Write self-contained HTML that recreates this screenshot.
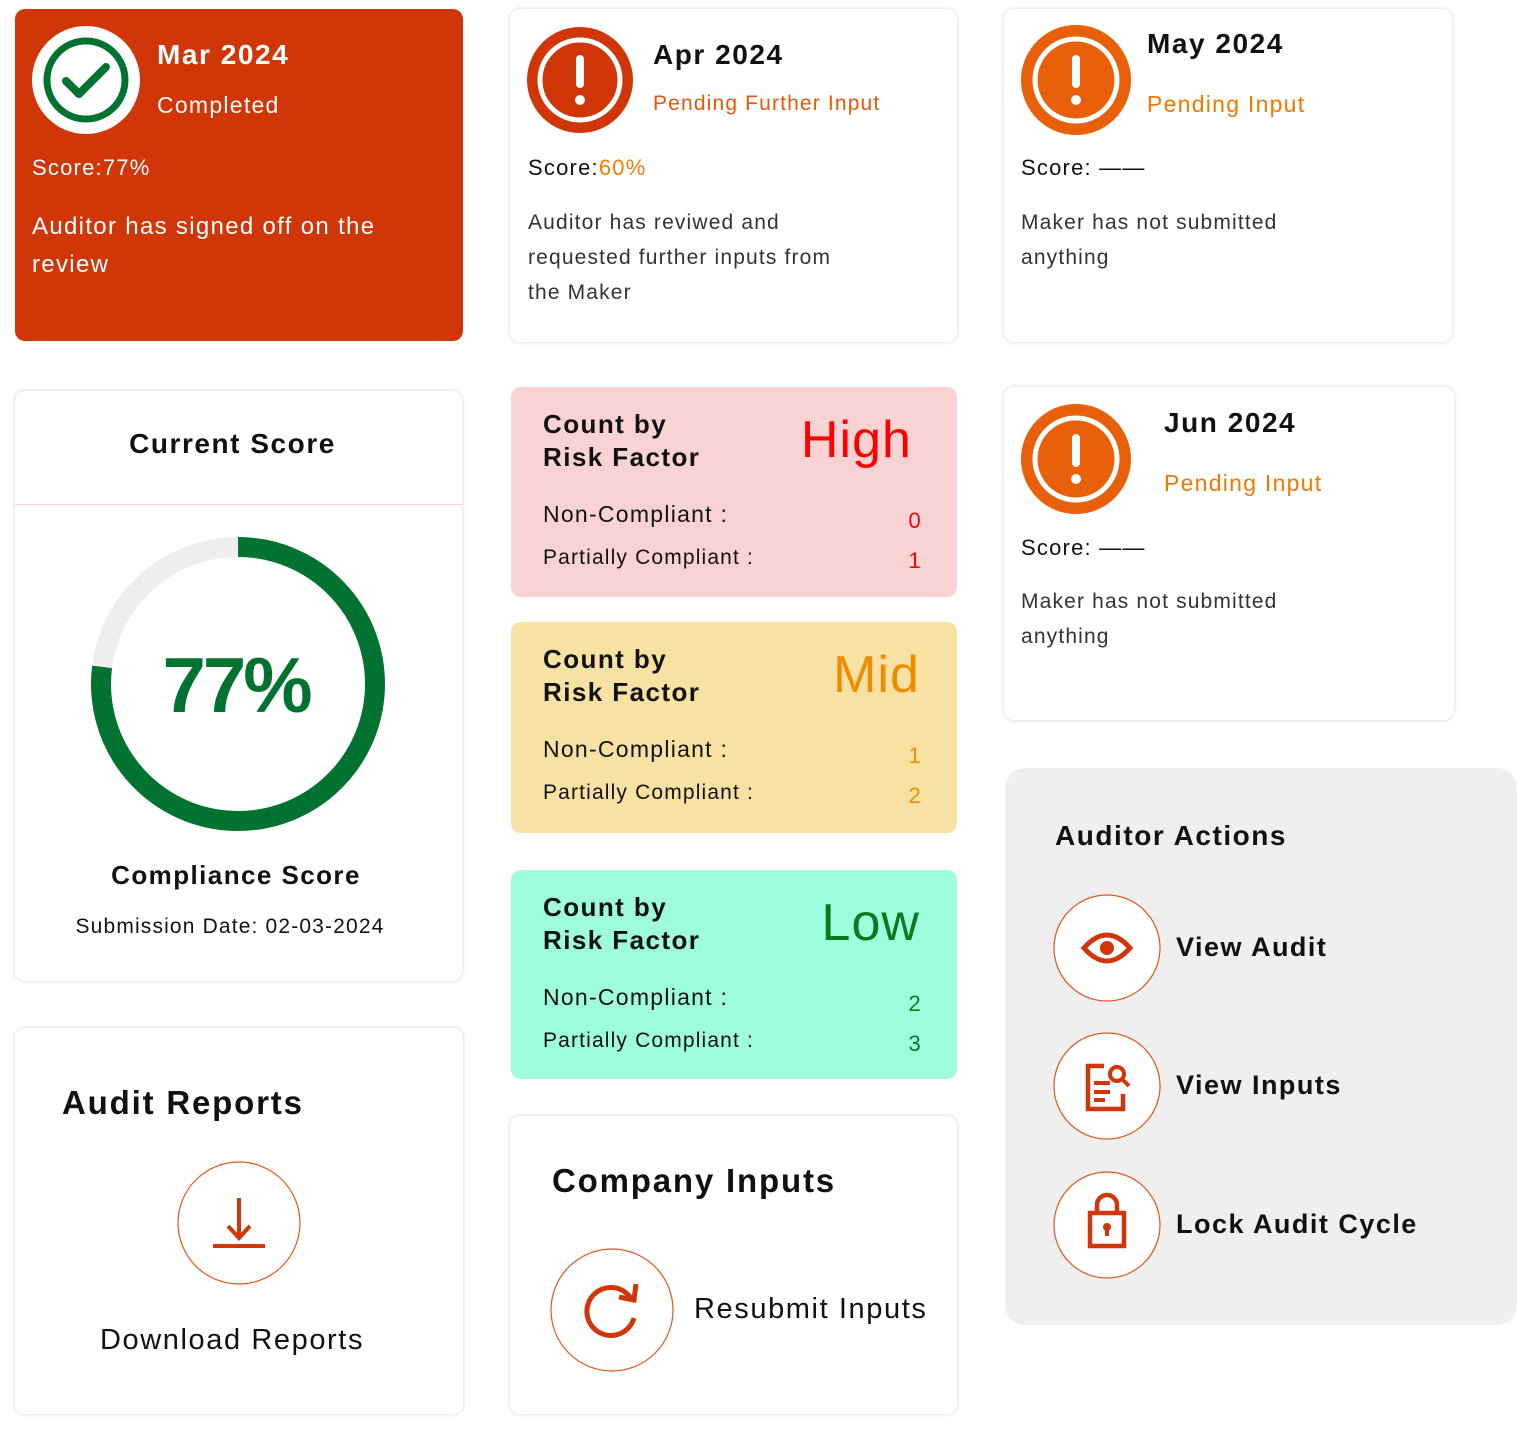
<!DOCTYPE html>
<html><head><meta charset="utf-8">
<style>
*{box-sizing:border-box;margin:0;padding:0}
body{width:1518px;height:1430px;background:#fff;position:relative;overflow:hidden;font-family:"Liberation Sans",sans-serif;color:#111}
.card{position:absolute;border-radius:10px;background:#fff;box-shadow:0 0 4px rgba(0,0,0,0.18)}
.t{position:absolute;line-height:1;white-space:nowrap;letter-spacing:0.055em;transform:translateY(4px)}
.b{font-weight:bold}
svg{position:absolute;left:0;top:0}
</style></head><body>

<div class="card" style="left:15px;top:9px;width:448px;height:332px;background:#D13609;box-shadow:none"></div>
<div class="card" style="left:510px;top:9px;width:447px;height:333px"></div>
<div class="card" style="left:1004px;top:9px;width:448px;height:333px"></div>
<div class="card" style="left:15px;top:391px;width:447px;height:590px"></div>
<div class="card" style="left:511px;top:387px;width:446px;height:210px;background:#F9D3D4;box-shadow:none"></div>
<div class="card" style="left:511px;top:622px;width:446px;height:211px;background:#F7E1A3;box-shadow:none"></div>
<div class="card" style="left:511px;top:870px;width:446px;height:209px;background:#9DFDDD;box-shadow:none"></div>
<div class="card" style="left:1004px;top:387px;width:450px;height:333px"></div>
<div class="card" style="left:1005px;top:768px;width:512px;height:557px;background:#EFEFEF;border-radius:20px;box-shadow:none"></div>
<div class="card" style="left:15px;top:1028px;width:448px;height:386px"></div>
<div class="card" style="left:510px;top:1116px;width:447px;height:298px"></div>
<div style="position:absolute;left:15px;top:504px;width:447px;height:1px;background:#F5D5D5"></div>

<svg width="1518" height="1430">
  <g>
    <circle cx="86" cy="80" r="54" fill="#fff"/>
    <circle cx="86" cy="80" r="39" fill="none" stroke="#01722F" stroke-width="7"/>
    <path d="M66 81 L79 94 L106 67" fill="none" stroke="#01722F" stroke-width="8" stroke-linecap="round" stroke-linejoin="round"/>
  </g>
  <g>
    <circle cx="580" cy="80" r="53" fill="#D13609"/>
    <circle cx="580" cy="80" r="40" fill="none" stroke="#fff" stroke-width="5"/>
    <rect x="576" y="55" width="8" height="33" rx="4" fill="#fff"/><circle cx="580" cy="100" r="5" fill="#fff"/>
  </g>
  <g>
    <circle cx="1076" cy="80" r="55" fill="#E8600A"/>
    <circle cx="1076" cy="80" r="41" fill="none" stroke="#fff" stroke-width="5"/>
    <rect x="1072" y="55" width="8" height="33" rx="4" fill="#fff"/><circle cx="1076" cy="100" r="5" fill="#fff"/>
  </g>
  <g>
    <circle cx="1076" cy="459" r="55" fill="#E8600A"/>
    <circle cx="1076" cy="459" r="41" fill="none" stroke="#fff" stroke-width="5"/>
    <rect x="1072" y="434" width="8" height="33" rx="4" fill="#fff"/><circle cx="1076" cy="479" r="5" fill="#fff"/>
  </g>
  <g id="donut"></g>
  <g>
    <circle cx="1107" cy="948" r="53" fill="#fff" stroke="#E0561A" stroke-width="1.2"/>
    <path d="M1084 948 Q1107 922 1130 948 Q1107 974 1084 948Z" fill="none" stroke="#D13609" stroke-width="5"/>
    <circle cx="1107" cy="948" r="7" fill="#D13609"/>
  </g>
  <g>
    <circle cx="1107" cy="1086" r="53" fill="#fff" stroke="#E0561A" stroke-width="1.2"/>
    <path d="M1104 1066 H1088 V1109 H1123 V1094" fill="none" stroke="#D13609" stroke-width="4.5"/>
    <line x1="1094" y1="1083" x2="1110" y2="1083" stroke="#D13609" stroke-width="4"/>
    <line x1="1094" y1="1092" x2="1110" y2="1092" stroke="#D13609" stroke-width="4"/>
    <line x1="1094" y1="1100" x2="1105" y2="1100" stroke="#D13609" stroke-width="4"/>
    <circle cx="1117" cy="1074" r="7" fill="none" stroke="#D13609" stroke-width="4"/>
    <line x1="1122" y1="1079" x2="1129" y2="1086" stroke="#D13609" stroke-width="4"/>
  </g>
  <g>
    <circle cx="1107" cy="1225" r="53" fill="#fff" stroke="#E0561A" stroke-width="1.2"/>
    <path d="M1097 1213 V1205 A10 10 0 0 1 1117 1205 V1213" fill="none" stroke="#D13609" stroke-width="4.5"/>
    <rect x="1090" y="1213" width="34" height="33" fill="none" stroke="#D13609" stroke-width="4.5"/>
    <circle cx="1107" cy="1227" r="4" fill="#D13609"/><rect x="1105" y="1228" width="4" height="8" fill="#D13609"/>
  </g>
  <g>
    <circle cx="239" cy="1223" r="61" fill="#fff" stroke="#E0561A" stroke-width="1.2"/>
    <line x1="239" y1="1198" x2="239" y2="1237" stroke="#D13609" stroke-width="4"/>
    <path d="M228 1226 L239 1238 L250 1226" fill="none" stroke="#D13609" stroke-width="4"/>
    <line x1="213" y1="1246" x2="265" y2="1246" stroke="#D13609" stroke-width="4"/>
  </g>
  <g>
    <circle cx="612" cy="1310" r="61" fill="#fff" stroke="#E0561A" stroke-width="1.2"/>
    <path d="M632 1300 A24 24 0 1 0 634 1318" fill="none" stroke="#D13609" stroke-width="5"/>
    <path d="M619 1297 L634 1300 L636 1284" fill="none" stroke="#D13609" stroke-width="5"/>
  </g>
</svg>

<div class="t b" style="left:157px;top:37px;font-size:28px;color:#fff">Mar 2024</div>
<div class="t" style="left:157px;top:90px;font-size:23px;color:#fff">Completed</div>
<div class="t" style="left:32px;top:153px;font-size:22px;color:#fff">Score:77%</div>
<div class="t" style="left:32px;top:204px;font-size:24px;color:#fff;line-height:38px">Auditor has signed off on the<br>review</div>

<div class="t b" style="left:653px;top:37px;font-size:28px">Apr 2024</div>
<div class="t" style="left:653px;top:89px;font-size:21px;color:#E8560A">Pending Further Input</div>
<div class="t" style="left:528px;top:153px;font-size:22px">Score:<span style="color:#F57C00">60%</span></div>
<div class="t" style="left:528px;top:201px;font-size:21px;line-height:35px;color:#333">Auditor has reviwed and<br>requested further inputs from<br>the Maker</div>

<div class="t b" style="left:1147px;top:26px;font-size:28px">May 2024</div>
<div class="t" style="left:1147px;top:89px;font-size:23px;color:#F07800">Pending Input</div>
<div class="t" style="left:1021px;top:153px;font-size:22px">Score: ——</div>
<div class="t" style="left:1021px;top:201px;font-size:21px;line-height:35px;color:#333">Maker has not submitted<br>anything</div>

<div class="t b" style="left:1164px;top:405px;font-size:28px">Jun 2024</div>
<div class="t" style="left:1164px;top:468px;font-size:23px;color:#F07800">Pending Input</div>
<div class="t" style="left:1021px;top:533px;font-size:22px">Score: ——</div>
<div class="t" style="left:1021px;top:580px;font-size:21px;line-height:35px;color:#333">Maker has not submitted<br>anything</div>

<div class="t b" style="left:15px;width:435px;text-align:center;top:426px;font-size:28px">Current Score</div>
<div class="t b" id="pct" style="left:36px;width:400px;text-align:center;top:642px;font-size:78px;color:#01722F;letter-spacing:-3px">77%</div>
<div class="t b" style="left:36px;width:400px;text-align:center;top:858px;font-size:26px">Compliance Score</div>
<div class="t" style="left:30px;width:400px;text-align:center;top:912px;font-size:21px">Submission Date: 02-03-2024</div>

<div id="risk"></div>

<div class="t b" style="left:1055px;top:818px;font-size:28px">Auditor Actions</div>
<div class="t" style="left:1176px;top:930px;font-size:27px;font-weight:bold;color:#111">View Audit</div>
<div class="t" style="left:1176px;top:1068px;font-size:27px;font-weight:bold">View Inputs</div>
<div class="t" style="left:1176px;top:1207px;font-size:27px;font-weight:bold">Lock Audit Cycle</div>

<div class="t b" style="left:62px;top:1082px;font-size:33px">Audit Reports</div>
<div class="t" style="left:32px;width:400px;text-align:center;top:1322px;font-size:29px">Download Reports</div>
<div class="t b" style="left:552px;top:1160px;font-size:33px">Company Inputs</div>
<div class="t" style="left:694px;top:1291px;font-size:29px">Resubmit Inputs</div>

<script>
const scoreValues = [77];
const scoreMax = [100];
const riskLevels = ["High", "Mid", "Low"];
const nonCompliant = [0, 1, 2];
const partiallyCompliant = [1, 2, 3];

(function(){
  const NS="http://www.w3.org/2000/svg";
  const g=document.getElementById('donut');
  const cx=238, cy=684, r=137;
  const frac=scoreValues[0]/scoreMax[0];
  const track=document.createElementNS(NS,'circle');
  track.setAttribute('cx',cx);track.setAttribute('cy',cy);track.setAttribute('r',r);
  track.setAttribute('fill','none');track.setAttribute('stroke','#EEEEEE');track.setAttribute('stroke-width','20');
  
  
  g.appendChild(track);
  const a=frac*2*Math.PI;
  const x1=cx, y1=cy-r, x2=cx+r*Math.sin(a), y2=cy-r*Math.cos(a);
  const p=document.createElementNS(NS,'path');
  p.setAttribute('d',`M${x1} ${y1} A${r} ${r} 0 ${frac>0.5?1:0} 1 ${x2} ${y2}`);
  p.setAttribute('fill','none');p.setAttribute('stroke','#01722F');p.setAttribute('stroke-width','20');
  
  
  g.appendChild(p);
  document.getElementById('pct').textContent=scoreValues[0]+'%';

  const colors=["#FF0000","#F08C00","#0A7A1E"];
  const tops=[387,622,870];
  const rights=[912,920,920];
  const host=document.getElementById('risk');
  riskLevels.forEach((lvl,i)=>{
    const y=tops[i];
    const c=colors[i];
    let html='';
    html+=`<div class="t b" style="left:543px;top:${y+17}px;font-size:26px;line-height:33px">Count by<br>Risk Factor</div>`;
    html+=`<div class="t" style="left:700px;width:${rights[i]-700}px;text-align:right;top:${y+23}px;font-size:52px;color:${c};letter-spacing:0.02em">${lvl}</div>`;
    html+=`<div class="t" style="left:543px;top:${y+112}px;font-size:23px">Non-Compliant :</div>`;
    html+=`<div class="t" style="left:543px;top:${y+156}px;font-size:21px">Partially Compliant :</div>`;
    html+=`<div class="t" style="left:850px;width:72px;text-align:right;top:${y+119}px;font-size:22px;color:${c}">${nonCompliant[i]}</div>`;
    html+=`<div class="t" style="left:850px;width:72px;text-align:right;top:${y+159}px;font-size:22px;color:${c}">${partiallyCompliant[i]}</div>`;
    host.insertAdjacentHTML('beforeend',html);
  });
})();
</script>
</body></html>
